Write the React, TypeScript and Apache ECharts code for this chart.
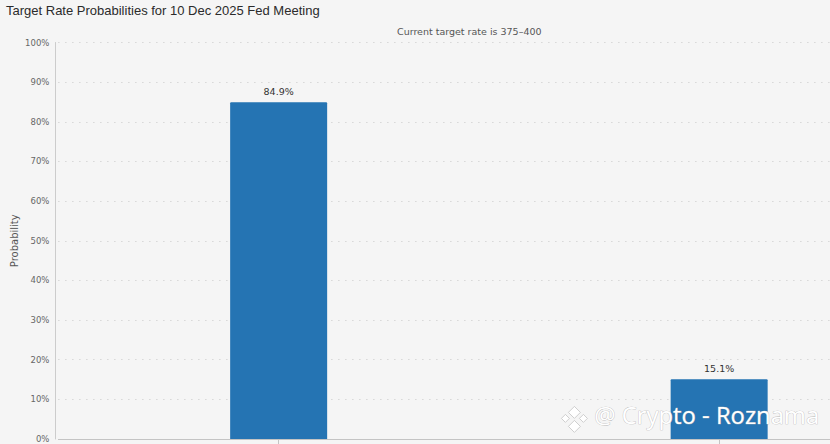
import React, { useEffect, useRef } from "react";
import * as echarts from "echarts";

const categories = ["350-375", "375-400"];
const probabilities = [84.9, 15.1];
const yTicks = { min: 0, max: 100, interval: 10 };
const titleText = "Target Rate Probabilities for 10 Dec 2025 Fed Meeting";
const subtitleText = "Current target rate is 375\u2013400";
const yAxisName = "Probability";
const watermarkText = "@ Crypto - Roznama";

const UI_FONT = "'DejaVu Sans', sans-serif";

export default function App() {
  const ref = useRef<HTMLDivElement>(null);
  useEffect(() => {
    document.body.style.margin = "0";
    const chart = echarts.init(ref.current!, null, { renderer: "svg" });
    const iconStyle = { fill: "#ffffff", stroke: "#c4c4c4", lineWidth: 0.8 };
    chart.setOption({
      animation: false,
      backgroundColor: "#f5f5f5",
      title: [
        {
          text: titleText,
          left: 6,
          top: 4,
          padding: 0,
          textStyle: { fontFamily: "'Liberation Sans', sans-serif", fontSize: 13, fontWeight: "normal", color: "#2b2b2b" },
        },
        {
          text: subtitleText,
          left: 397,
          top: 26,
          padding: 0,
          textStyle: { fontFamily: UI_FONT, fontSize: 9.5, fontWeight: "normal", color: "#555555" },
        },
      ],
      grid: { left: 58.4, top: 42.5, width: 881, height: 396.5, outerBoundsMode: "none" },
      xAxis: {
        type: "category",
        data: categories,
        axisLine: { lineStyle: { color: "#c4c4c4", width: 1 } },
        axisTick: { show: true, alignWithLabel: true, length: 5, lineStyle: { color: "#c4c4c4" } },
        axisLabel: { show: false },
      },
      yAxis: {
        type: "value",
        offset: 3,
        min: yTicks.min,
        max: yTicks.max,
        interval: yTicks.interval,
        name: yAxisName,
        nameLocation: "middle",
        nameGap: 36,
        nameMoveOverlap: false,
        nameTextStyle: { fontFamily: UI_FONT, fontSize: 10, color: "#555555" },
        axisLine: { show: true, lineStyle: { color: "#cccccc", width: 1 } },
        axisTick: { show: false },
        axisLabel: { formatter: "{value}%", fontFamily: UI_FONT, fontSize: 8.5, color: "#666666", margin: 6 },
        splitLine: { show: true, lineStyle: { color: "#c8c8c8", type: [1, 6], width: 1 } },
      },
      series: [
        {
          type: "bar",
          data: probabilities,
          barWidth: 97,
          itemStyle: { color: "#2574b3", borderRadius: [1, 1, 0, 0] },
          label: {
            show: true,
            position: "top",
            distance: 6,
            formatter: (p: any) => p.value.toFixed(1) + "%",
            fontFamily: UI_FONT,
            fontSize: 9.5,
            color: "#333333",
          },
        },
      ],
      graphic: [
        {
          type: "group",
          left: 561,
          top: 406,
          z: 100,
          children: [
            { type: "polygon", z: 100, shape: { points: [[14, 0], [20, 6], [14, 12], [8, 6]] }, style: iconStyle },
            { type: "polygon", z: 100, shape: { points: [[5, 8], [9, 12], [5, 16], [1, 12]] }, style: iconStyle },
            { type: "polygon", z: 100, shape: { points: [[23, 8], [27, 12], [23, 16], [19, 12]] }, style: iconStyle },
            { type: "polygon", z: 100, shape: { points: [[14, 14], [20, 20], [14, 26], [8, 20]] }, style: iconStyle },
          ],
        },
        {
          type: "text",
          left: 594,
          top: 403,
          z: 100,
          style: {
            text: watermarkText,
            fontFamily: "'Open Sans', sans-serif",
            fontSize: 23.8,
            fill: "#ffffff",
            stroke: "#b5b5b5",
            lineWidth: 0.7,
          },
        },
      ],
    });
    return () => chart.dispose();
  }, []);
  return <div ref={ref} style={{ width: 830, height: 444 }} />;
}
